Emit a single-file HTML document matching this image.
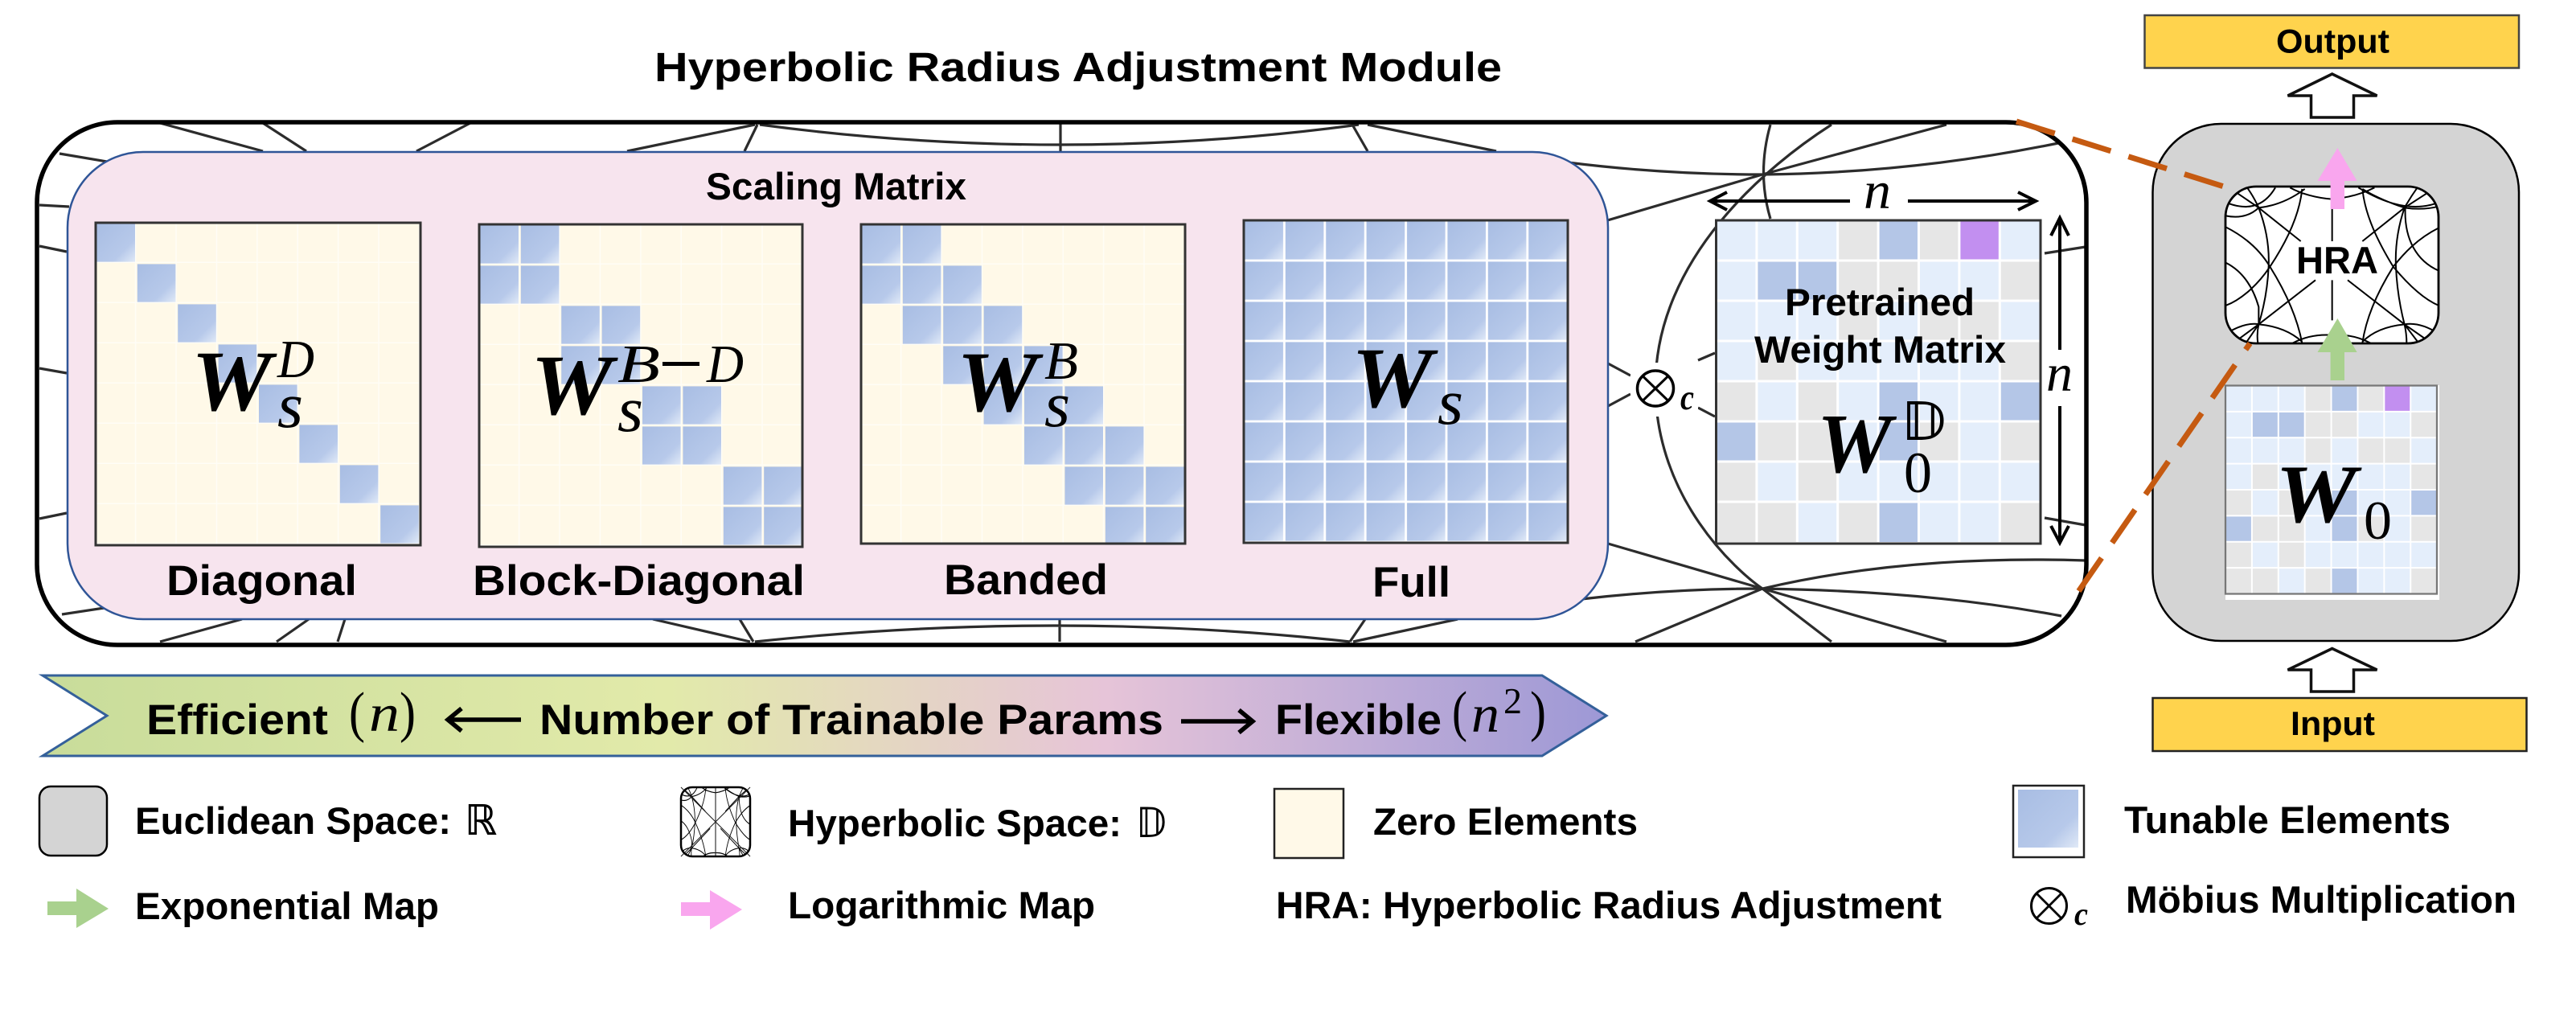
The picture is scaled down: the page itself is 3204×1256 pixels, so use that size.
<!DOCTYPE html>
<html><head><meta charset="utf-8"><style>
html,body{margin:0;padding:0;background:#fff;width:3204px;height:1256px;overflow:hidden}
svg{display:block}
.b{font-family:"Liberation Sans",sans-serif;font-weight:700;fill:#000}
.m{font-family:"Liberation Serif",serif;font-style:italic;fill:#000}
.w{font-family:"Liberation Serif",serif;font-style:italic;font-weight:700;fill:#000}
.r{font-family:"Liberation Serif",serif;fill:#000}
.d{font-family:"DejaVu Sans",sans-serif;font-weight:700;fill:#000}
</style></head><body>
<svg width="3204" height="1256" viewBox="0 0 3204 1256" xmlns="http://www.w3.org/2000/svg">
<defs>
<linearGradient id="g" x1="0" y1="0" x2="1" y2="1"><stop offset="0" stop-color="#a8bde3"/><stop offset=".7" stop-color="#b7c9ea"/><stop offset="1" stop-color="#e0e9f7"/></linearGradient>
<linearGradient id="ban" x1="0" x2="1" y1="0" y2="0"><stop offset="0" stop-color="#c8dc9a"/><stop offset=".4" stop-color="#e2eaaa"/><stop offset=".68" stop-color="#e6c4d8"/><stop offset="1" stop-color="#9d98d6"/></linearGradient>
<pattern id="zg" width="50.4" height="50" patternUnits="userSpaceOnUse"><rect width="50.4" height="50" fill="#fff9e8"/><path d="M50.4 0V50M0 50H50.4" stroke="#fffdf6" stroke-width="3"/></pattern>
<pattern id="fg" width="50.4" height="50" patternUnits="userSpaceOnUse"><rect width="50.4" height="50" fill="#fff"/><rect x="1.4" y="1.4" width="47.6" height="47.2" fill="url(#g)"/></pattern>
<rect id="c" width="47.6" height="47.2" fill="url(#g)"/>
<clipPath id="oc"><rect x="46" y="152" width="2549" height="650" rx="100"/></clipPath>
<clipPath id="hc"><rect x="25" y="22" width="795" height="583" rx="110"/></clipPath>
<g id="wm">
<rect width="403" height="400" fill="#e4eefb"/>
<g fill="#e6e6e6">
<rect x="151.2" y="0" width="50.4" height="50"/><rect x="252" y="0" width="50.4" height="50"/>
<rect x="151.2" y="50" width="100.8" height="50"/><rect x="352.8" y="50" width="50.4" height="50"/>
<rect x="151.2" y="100" width="50.4" height="50"/><rect x="252" y="100" width="100.8" height="50"/>
<rect x="50.4" y="150" width="50.4" height="50"/><rect x="352.8" y="150" width="50.4" height="50"/>
<rect x="0" y="200" width="50.4" height="50"/><rect x="100.8" y="200" width="50.4" height="50"/>
<rect x="50.4" y="250" width="100.8" height="50"/><rect x="252" y="250" width="50.4" height="50"/><rect x="352.8" y="250" width="50.4" height="50"/>
<rect x="0" y="300" width="50.4" height="50"/><rect x="100.8" y="300" width="50.4" height="50"/>
<rect x="0" y="350" width="100.8" height="50"/><rect x="151.2" y="350" width="50.4" height="50"/><rect x="352.8" y="350" width="50.4" height="50"/>
</g>
<g fill="#b4c6e7">
<rect x="201.6" y="0" width="50.4" height="50"/>
<rect x="50.4" y="50" width="100.8" height="50"/>
<rect x="201.6" y="200" width="50.4" height="50"/><rect x="352.8" y="200" width="50.4" height="50"/>
<rect x="0" y="250" width="50.4" height="50"/><rect x="201.6" y="250" width="50.4" height="50"/>
<rect x="201.6" y="350" width="50.4" height="50"/>
</g>
<rect x="302.4" y="0" width="50.4" height="50" fill="#c28ff0"/>
<path d="M50.4 0V400M100.8 0V400M151.2 0V400M201.6 0V400M252 0V400M302.4 0V400M352.8 0V400M0 50H403M0 100H403M0 150H403M0 200H403M0 250H403M0 300H403M0 350H403" stroke="#fff" stroke-width="3" fill="none"/>
</g>
<g id="hy" fill="none" stroke="#000" clip-path="url(#hc)">
<path d="M60 40L148 100M105 25Q130 60 148 100Q190 210 185 320Q180 430 148 535Q140 570 145 605M25 80Q148 130 210 25M25 130Q100 145 148 100Q240 90 320 30M148 100L305 225M310 30C300 130 250 230 190 320C150 380 90 440 25 465M25 172C110 215 160 270 190 320C240 400 290 500 310 605M25 305C85 335 125 390 148 470L148 535M360 370L148 535M25 570Q100 525 150 535Q250 545 310 600M60 600L148 535M100 605L148 535M275 605Q340 570 420 575Q500 570 565 605M265 25Q330 60 422 68Q510 60 580 25"/>
<path d="M785 40L692 100M740 25Q715 60 692 100Q655 210 660 320Q665 430 692 535Q700 570 700 605M820 80Q692 130 520 25M820 95Q760 110 692 100Q600 70 535 30M692 100L535 225M535 30C545 130 595 230 650 320C700 380 760 440 820 465M820 175C740 215 690 270 650 320C600 400 550 500 535 605M820 335C740 300 690 220 695 100M480 370L692 535M820 570Q750 525 692 535Q590 545 535 600M785 600L692 535M745 605L692 535"/>
<path d="M422 60V225M422 370V520"/>
</g>
</defs>

<!-- title -->
<text class="b" x="814" y="101" font-size="51" textLength="1054" lengthAdjust="spacingAndGlyphs">Hyperbolic Radius Adjustment Module</text>

<!-- outer panel -->
<rect x="46" y="152" width="2549" height="650" rx="100" fill="#fff"/>
<g clip-path="url(#oc)" fill="none" stroke="#2c2c2c" stroke-width="3.2">
<path d="M199 153L327 188M327 153L381 188M585 153L518 188M780 188L939 155M942 155L926 188"/>
<path d="M945 155Q1319 205 1690 155M1319 150V190M1682 155L1701 188M1701 155L1861 188"/>
<path d="M1950 202Q2070 217 2192 217Q2380 215 2560 178M1996 275L2192 217L2421 155M2202 155Q2185 215 2202 272M2278 155C2200 205 2059 320 2059 480C2059 620 2160 710 2192 732L2278 798"/>
<path d="M2000 452L2028 467M2000 505L2028 490M2112 448L2133 439M2112 507L2133 518M2543 315L2594 307M2543 644L2594 653"/>
<path d="M2000 676L2192 732L2421 798M1967 745Q2080 732 2192 732Q2400 735 2564 766M2034 798L2192 732Q2370 690 2594 697"/>
<path d="M74 191L133 201M49 255L86 257M49 306L83 313M49 458L83 464M49 645L83 638M77 764L130 756"/>
<path d="M301 770L199 798M384 770L344 798M429 770L420 798M812 770L933 798M920 770L937 798M939 798Q1315 758 1679 798M1318 770V798M1698 770L1679 798M1813 770L1683 798"/>
</g>
<rect x="46" y="152" width="2549" height="650" rx="100" fill="none" stroke="#000" stroke-width="5.5"/>

<!-- pink scaling panel -->
<rect x="84" y="189" width="1916" height="581" rx="94" fill="#f7e4ee" stroke="#2f5597" stroke-width="2.5"/>
<text class="b" x="878" y="248" font-size="47" textLength="324" lengthAdjust="spacingAndGlyphs">Scaling Matrix</text>

<!-- M1 -->
<g transform="translate(119,277)">
<rect width="404" height="401" fill="url(#zg)"/>
<use href="#c" x="1.4" y="1.4"/><use href="#c" x="51.8" y="51.4"/><use href="#c" x="102.2" y="101.4"/><use href="#c" x="152.6" y="151.4"/><use href="#c" x="203" y="201.4"/><use href="#c" x="253.4" y="251.4"/><use href="#c" x="303.8" y="301.4"/><use href="#c" x="354.2" y="351.4"/>
<rect width="404" height="401" fill="none" stroke="#333" stroke-width="3"/>
</g>
<text class="w" x="238" y="510" font-size="107" textLength="100" lengthAdjust="spacingAndGlyphs">W</text>
<text class="m" x="345" y="469" font-size="67" textLength="46" lengthAdjust="spacingAndGlyphs">D</text>
<text class="m" x="345" y="531" font-size="80" textLength="32" lengthAdjust="spacingAndGlyphs">s</text>
<text class="b" x="207" y="740" font-size="53" textLength="237" lengthAdjust="spacingAndGlyphs">Diagonal</text>

<!-- M2 -->
<g transform="translate(596,279)">
<rect width="402" height="401" fill="url(#zg)"/>
<use href="#c" x="1.4" y="1.4"/><use href="#c" x="51.8" y="1.4"/><use href="#c" x="1.4" y="51.4"/><use href="#c" x="51.8" y="51.4"/>
<use href="#c" x="102.2" y="101.4"/><use href="#c" x="152.6" y="101.4"/><use href="#c" x="102.2" y="151.4"/><use href="#c" x="152.6" y="151.4"/>
<use href="#c" x="203" y="201.4"/><use href="#c" x="253.4" y="201.4"/><use href="#c" x="203" y="251.4"/><use href="#c" x="253.4" y="251.4"/>
<use href="#c" x="303.8" y="301.4"/><use href="#c" x="354.2" y="301.4"/><use href="#c" x="303.8" y="351.4"/><use href="#c" x="354.2" y="351.4"/>
<rect width="402" height="401" fill="none" stroke="#333" stroke-width="3"/>
</g>
<text class="w" x="660" y="515" font-size="107" textLength="102" lengthAdjust="spacingAndGlyphs">W</text>
<text class="m" x="768" y="475" font-size="67" textLength="53" lengthAdjust="spacingAndGlyphs">B</text>
<rect x="824" y="450" width="46" height="5" fill="#000"/>
<text class="m" x="879" y="475" font-size="67" textLength="46" lengthAdjust="spacingAndGlyphs">D</text>
<text class="m" x="768" y="536" font-size="80" textLength="32" lengthAdjust="spacingAndGlyphs">s</text>
<text class="b" x="588" y="740" font-size="53" textLength="413" lengthAdjust="spacingAndGlyphs">Block-Diagonal</text>

<!-- M3 -->
<g transform="translate(1071,279)">
<rect width="403" height="397" fill="url(#zg)"/>
<use href="#c" x="1.4" y="1.4"/><use href="#c" x="51.8" y="1.4"/>
<use href="#c" x="1.4" y="51.4"/><use href="#c" x="51.8" y="51.4"/><use href="#c" x="102.2" y="51.4"/>
<use href="#c" x="51.8" y="101.4"/><use href="#c" x="102.2" y="101.4"/><use href="#c" x="152.6" y="101.4"/>
<use href="#c" x="102.2" y="151.4"/><use href="#c" x="152.6" y="151.4"/><use href="#c" x="203" y="151.4"/>
<use href="#c" x="152.6" y="201.4"/><use href="#c" x="203" y="201.4"/><use href="#c" x="253.4" y="201.4"/>
<use href="#c" x="203" y="251.4"/><use href="#c" x="253.4" y="251.4"/><use href="#c" x="303.8" y="251.4"/>
<use href="#c" x="253.4" y="301.4"/><use href="#c" x="303.8" y="301.4"/><use href="#c" x="354.2" y="301.4"/>
<use href="#c" x="303.8" y="351.4"/><use href="#c" x="354.2" y="351.4"/>
<rect width="403" height="397" fill="none" stroke="#333" stroke-width="3"/>
</g>
<text class="w" x="1190" y="511" font-size="107" textLength="101" lengthAdjust="spacingAndGlyphs">W</text>
<text class="m" x="1299" y="471" font-size="67" textLength="42" lengthAdjust="spacingAndGlyphs">B</text>
<text class="m" x="1299" y="530" font-size="80" textLength="32" lengthAdjust="spacingAndGlyphs">s</text>
<text class="b" x="1174" y="739" font-size="53" textLength="204" lengthAdjust="spacingAndGlyphs">Banded</text>

<!-- M4 -->
<g transform="translate(1547,274)">
<rect width="403" height="401" fill="url(#fg)"/>
<rect width="403" height="401" fill="none" stroke="#333" stroke-width="3"/>
</g>
<text class="w" x="1681" y="506" font-size="107" textLength="101" lengthAdjust="spacingAndGlyphs">W</text>
<text class="m" x="1788" y="527" font-size="80" textLength="32" lengthAdjust="spacingAndGlyphs">s</text>
<text class="b" x="1707" y="742" font-size="53" textLength="97" lengthAdjust="spacingAndGlyphs">Full</text>

<!-- mobius -->
<rect x="2028" y="451" width="84" height="67" fill="#fff"/>
<ellipse cx="2059" cy="483" rx="22.5" ry="22" fill="none" stroke="#000" stroke-width="3.5"/>
<path d="M2043 467.500L2075 498.500M2075 467.500L2043 498.500" stroke="#000" stroke-width="3"/>
<text class="w" x="2090" y="509" font-size="44" textLength="17" lengthAdjust="spacingAndGlyphs">c</text>

<!-- pretrained -->
<g transform="translate(2134.500,274)"><use href="#wm"/><rect width="403.500" height="402" fill="none" stroke="#333" stroke-width="3"/></g>
<text class="b" x="2220" y="392" font-size="47" textLength="236" lengthAdjust="spacingAndGlyphs">Pretrained</text>
<text class="b" x="2182" y="451" font-size="47" textLength="313" lengthAdjust="spacingAndGlyphs">Weight Matrix</text>
<text class="w" x="2260" y="587" font-size="105" textLength="93" lengthAdjust="spacingAndGlyphs">W</text>
<text class="d" x="2366" y="547" font-size="66" textLength="55" lengthAdjust="spacingAndGlyphs">𝔻</text>
<text class="r" x="2368" y="612" font-size="72" textLength="35" lengthAdjust="spacingAndGlyphs">0</text>
<text class="m" x="2318" y="259" font-size="66" textLength="34" lengthAdjust="spacingAndGlyphs">n</text>
<text class="m" x="2545" y="486" font-size="66" textLength="33" lengthAdjust="spacingAndGlyphs">n</text>
<path d="M2127 250H2301M2373 250H2531M2562 272V435M2562 505V674" fill="none" stroke="#000" stroke-width="4"/>
<path d="M2148 239L2127 250L2148 261M2510 239L2532 250L2510 261M2551 293L2562 271L2573 293M2551 654L2562 675L2573 654" fill="none" stroke="#000" stroke-width="4"/>

<!-- right panel -->
<rect x="2667.500" y="19" width="465.500" height="65.500" fill="#ffd34d" stroke="#444" stroke-width="2.500"/>
<text class="b" x="2831" y="65.500" font-size="42" textLength="141" lengthAdjust="spacingAndGlyphs">Output</text>
<polygon points="2900.700,92 2956.500,119 2927.500,119 2927.500,146 2874.500,146 2874.500,119 2845.500,119" fill="#fff" stroke="#111" stroke-width="3.500"/>
<rect x="2677.500" y="154" width="455.500" height="643" rx="85" fill="#d4d4d4" stroke="#000" stroke-width="2.500"/>
<polygon points="2900.700,806.500 2956.500,833 2927.500,833 2927.500,860 2874.500,860 2874.500,833 2845.500,833" fill="#fff" stroke="#111" stroke-width="3.500"/>
<rect x="2677.500" y="868" width="465" height="66" fill="#ffd34d" stroke="#222" stroke-width="2.500"/>
<text class="b" x="2849" y="914" font-size="42" textLength="105" lengthAdjust="spacingAndGlyphs">Input</text>

<!-- HRA -->
<rect x="2768" y="232" width="265" height="195" rx="38" fill="#fff"/>
<g transform="translate(2760,225) scale(.33333)" stroke-width="6"><use href="#hy"/></g>
<rect x="2768" y="232" width="265" height="195" rx="38" fill="none" stroke="#000" stroke-width="2.800"/>
<text class="b" x="2856" y="340" font-size="47" textLength="102" lengthAdjust="spacingAndGlyphs">HRA</text>
<polygon points="2907.400,184 2931.600,225 2916,225 2916,260 2898.600,260 2898.600,225 2882.500,225" fill="#f9a6ee"/>
<polygon points="2907.400,396 2931.600,438 2916,438 2916,473 2898.600,473 2898.600,438 2882.500,438" fill="#a9d18e"/>

<!-- W0 -->
<rect x="2768" y="479" width="266" height="267" fill="#fff"/>
<g transform="translate(2768,479.500) scale(.6526,.6475)"><use href="#wm"/><rect width="403" height="400" fill="none" stroke="#777" stroke-width="3.500"/></g>
<text class="w" x="2830" y="649" font-size="103" textLength="101" lengthAdjust="spacingAndGlyphs">W</text>
<text class="r" x="2940" y="670" font-size="68" textLength="35" lengthAdjust="spacingAndGlyphs">0</text>

<!-- dashed zoom lines -->
<path d="M2508 151L2782 237M2585.500 735L2798.500 427" fill="none" stroke="#c55a11" stroke-width="7" stroke-dasharray="50 23"/>

<!-- banner -->
<polygon points="53,840 1918,840 1998,890 1918,940 53,940 133,890" fill="url(#ban)" stroke="#34609a" stroke-width="3"/>
<text class="b" x="182" y="913" font-size="53" textLength="226" lengthAdjust="spacingAndGlyphs">Efficient</text>
<text class="r" x="434" y="909" font-size="70" textLength="20" lengthAdjust="spacingAndGlyphs">(</text>
<text class="m" x="459" y="909" font-size="66" textLength="38" lengthAdjust="spacingAndGlyphs">n</text>
<text class="r" x="497" y="909" font-size="70" textLength="20" lengthAdjust="spacingAndGlyphs">)</text>
<path d="M558 895H648M574 881L557 895L574 909" fill="none" stroke="#000" stroke-width="5.500"/>
<text class="b" x="671" y="913" font-size="53" textLength="776" lengthAdjust="spacingAndGlyphs">Number of Trainable Params</text>
<path d="M1469 897H1558M1541 883L1558 897L1541 911" fill="none" stroke="#000" stroke-width="5.500"/>
<text class="b" x="1586" y="913" font-size="53" textLength="207" lengthAdjust="spacingAndGlyphs">Flexible</text>
<text class="r" x="1806" y="908" font-size="70" textLength="19" lengthAdjust="spacingAndGlyphs">(</text>
<text class="m" x="1830" y="910" font-size="66" textLength="35" lengthAdjust="spacingAndGlyphs">n</text>
<text class="r" x="1870" y="887" font-size="46" textLength="23" lengthAdjust="spacingAndGlyphs">2</text>
<text class="r" x="1903" y="908" font-size="70" textLength="20" lengthAdjust="spacingAndGlyphs">)</text>

<!-- legend -->
<rect x="49" y="978" width="84" height="86" rx="14" fill="#d4d4d4" stroke="#000" stroke-width="2.500"/>
<text class="b" x="168" y="1037" font-size="47" textLength="393" lengthAdjust="spacingAndGlyphs">Euclidean Space:</text>
<text class="d" x="578" y="1038" font-size="52" textLength="40" lengthAdjust="spacingAndGlyphs">ℝ</text>
<g transform="translate(847,979) scale(.10818,.14751) translate(-25,-22)"><use href="#hy" style="stroke-width:8"/></g>
<path d="M847 979L933 1065M933 979L847 1065M890 979V1065" stroke="#222" stroke-width="1.100"/>
<rect x="847" y="979" width="86" height="86" rx="14" fill="none" stroke="#000" stroke-width="2.500"/>
<text class="b" x="980" y="1040" font-size="47" textLength="415" lengthAdjust="spacingAndGlyphs">Hyperbolic Space:</text>
<text class="d" x="1414" y="1041" font-size="52" textLength="37" lengthAdjust="spacingAndGlyphs">𝔻</text>
<rect x="1585" y="981" width="86" height="86" fill="#fff9e8" stroke="#222" stroke-width="2.500"/>
<text class="b" x="1708" y="1038" font-size="47" textLength="329" lengthAdjust="spacingAndGlyphs">Zero Elements</text>
<rect x="2504" y="977" width="88" height="89" fill="#fff" stroke="#222" stroke-width="2.500"/>
<rect x="2510" y="982" width="75" height="72" fill="url(#g)"/>
<text class="b" x="2642" y="1036" font-size="47" textLength="406" lengthAdjust="spacingAndGlyphs">Tunable Elements</text>
<polygon points="59,1121 95,1121 95,1105 135,1130 95,1154 95,1138 59,1138" fill="#a9d18e"/>
<text class="b" x="168" y="1143" font-size="47" textLength="378" lengthAdjust="spacingAndGlyphs">Exponential Map</text>
<polygon points="847,1122 883,1122 883,1107 923,1131 883,1156 883,1139 847,1139" fill="#f9a6ee"/>
<text class="b" x="980" y="1142" font-size="47" textLength="382" lengthAdjust="spacingAndGlyphs">Logarithmic Map</text>
<text class="b" x="1587" y="1142" font-size="47" textLength="828" lengthAdjust="spacingAndGlyphs">HRA: Hyperbolic Radius Adjustment</text>
<ellipse cx="2548.500" cy="1126.500" rx="22" ry="22" fill="none" stroke="#000" stroke-width="3"/>
<path d="M2533 1111L2564 1142M2564 1111L2533 1142" stroke="#000" stroke-width="2.800"/>
<text class="w" x="2580" y="1150" font-size="40" textLength="17" lengthAdjust="spacingAndGlyphs">c</text>
<text class="b" x="2644" y="1135" font-size="47" textLength="486" lengthAdjust="spacingAndGlyphs">Möbius Multiplication</text>
</svg>
</body></html>
